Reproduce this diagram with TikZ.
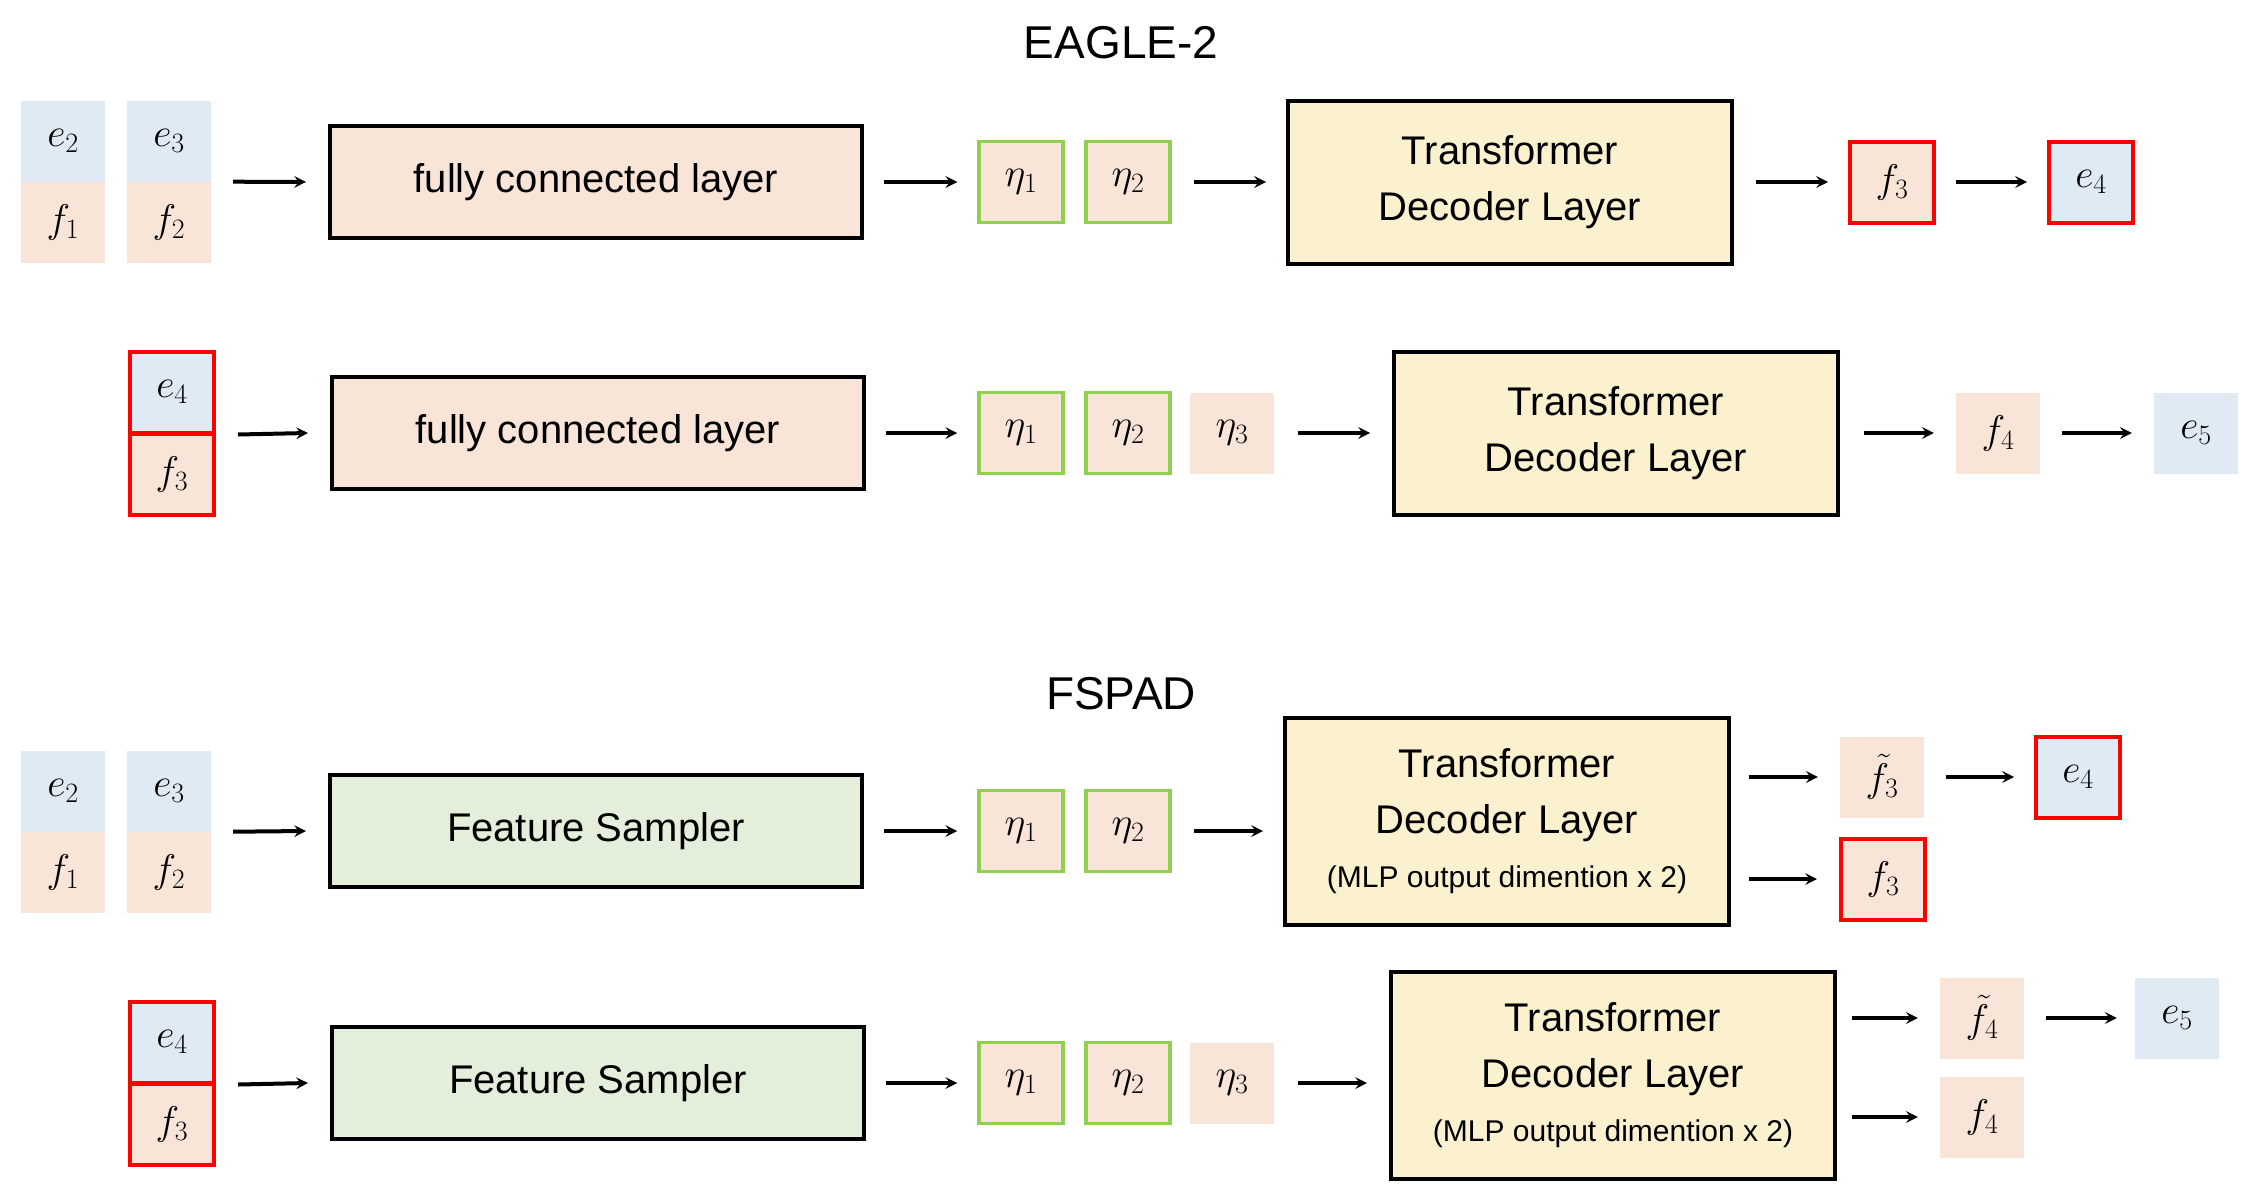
\RequirePackage{fix-cm}
\documentclass[tikz,border=0pt]{standalone}
\usepackage{fontspec}
\setmainfont{Liberation Sans}
\usetikzlibrary{arrows}
\definecolor{peach}{HTML}{F8E5D8}
\definecolor{paleblue}{HTML}{DFEAF5}
\definecolor{paleyellow}{HTML}{FCF1CF}
\definecolor{palegreen}{HTML}{E3EFDA}
\definecolor{leafgreen}{HTML}{8FD14F}
\tikzstyle{feat} = [rectangle, minimum width=84pt, minimum height=81pt, inner sep=0pt, text centered, fill=peach, font=\fontsize{40}{48}\selectfont]
\tikzstyle{emb} = [feat, fill=paleblue]
\tikzstyle{picked} = [draw=red, line width=4pt]
\tikzstyle{token} = [feat, minimum width=84pt, draw=leafgreen, line width=3.5pt]
\tikzstyle{layer} = [rectangle, minimum width=532pt, minimum height=112pt, text centered, draw=black, line width=4pt, fill=peach, font=\fontsize{40}{48}\selectfont]
\tikzstyle{sampler} = [layer, fill=palegreen]
\tikzstyle{decoder} = [rectangle, minimum width=444pt, minimum height=163pt, align=center, draw=black, line width=4pt, fill=paleyellow, font=\fontsize{40}{56}\selectfont]
\tikzstyle{title} = [font=\fontsize{46}{54}\selectfont]
\tikzstyle{arrow} = [line width=4pt,->,>=stealth]

\begin{document}
\begin{tikzpicture}[x=1pt, y=-1pt]
    \useasboundingbox (0,0) rectangle (2254,1197);
    %titles
    \node (eagle) [title] at (1121,43) {EAGLE-2};
    \node (fspad) [title] at (1121,694) {FSPAD};

    %EAGLE-2, first pass
    \node (ae2) [emb] at (63,141) {$e_2$};
    \node (af1) [feat] at (63,222) {$f_1$};
    \node (ae3) [emb] at (169,141) {$e_3$};
    \node (af2) [feat] at (169,222) {$f_2$};
    \node (afc) [layer] at (596,182) {fully connected layer};
    \node (aeta1) [token] at (1021,182) {$\eta_1$};
    \node (aeta2) [token] at (1128,182) {$\eta_2$};
    \node (adec) [decoder] at (1510,182) {Transformer\\Decoder Layer};
    \node (af3) [feat, picked] at (1892,182) {$f_3$};
    \node (ae4) [emb, picked] at (2091,182) {$e_4$};

    %EAGLE-2, second pass
    \node (be4) [emb, picked] at (172,392) {$e_4$};
    \node (bf3) [feat, picked] at (172,474) {$f_3$};
    \node (bfc) [layer] at (598,433) {fully connected layer};
    \node (beta1) [token] at (1021,433) {$\eta_1$};
    \node (beta2) [token] at (1128,433) {$\eta_2$};
    \node (beta3) [feat] at (1232,433) {$\eta_3$};
    \node (bdec) [decoder] at (1616,433) {Transformer\\Decoder Layer};
    \node (bf4) [feat] at (1998,433) {$f_4$};
    \node (be5) [emb] at (2196,433) {$e_5$};

    %FSPAD, first pass
    \node (ce2) [emb] at (63,791) {$e_2$};
    \node (cf1) [feat] at (63,872) {$f_1$};
    \node (ce3) [emb] at (169,791) {$e_3$};
    \node (cf2) [feat] at (169,872) {$f_2$};
    \node (cfs) [sampler] at (596,831) {Feature Sampler};
    \node (ceta1) [token] at (1021,831) {$\eta_1$};
    \node (ceta2) [token] at (1128,831) {$\eta_2$};
    \node (cdec) [decoder, minimum height=207pt] at (1507,821) {Transformer\\Decoder Layer\\[-2pt]{\fontsize{30}{36}\selectfont (MLP output dimention x 2)}};
    \node (cft3) [feat] at (1882,777) {$\tilde f_3$};
    \node (ce4) [emb, picked] at (2078,777) {$e_4$};
    \node (cf3) [feat, picked] at (1883,879) {$f_3$};

    %FSPAD, second pass
    \node (de4) [emb, picked] at (172,1042) {$e_4$};
    \node (df3) [feat, picked] at (172,1124) {$f_3$};
    \node (dfs) [sampler] at (598,1083) {Feature Sampler};
    \node (deta1) [token] at (1021,1083) {$\eta_1$};
    \node (deta2) [token] at (1128,1083) {$\eta_2$};
    \node (deta3) [feat] at (1232,1083) {$\eta_3$};
    \node (ddec) [decoder, minimum height=207pt] at (1613,1075) {Transformer\\Decoder Layer\\[-2pt]{\fontsize{30}{36}\selectfont (MLP output dimention x 2)}};
    \node (dft4) [feat] at (1982,1018) {$\tilde f_4$};
    \node (de5) [emb] at (2177,1018) {$e_5$};
    \node (df4) [feat] at (1982,1117) {$f_4$};

    %arrows
    \draw [arrow] ([xshift=22pt]ae3.south east) -- ([xshift=-22pt]afc.west);
    \draw [arrow] ([xshift=20pt]afc.east) -- ([xshift=-20pt]aeta1.west);
    \draw [arrow] ([xshift=22pt]aeta2.east) -- ([xshift=-20pt]adec.west);
    \draw [arrow] ([xshift=22pt]adec.east) -- ([xshift=-20pt]af3.west);
    \draw [arrow] ([xshift=20pt]af3.east) -- ([xshift=-20pt]ae4.west);

    \draw [arrow] ([xshift=22pt]be4.south east) -- ([xshift=-22pt]bfc.west);
    \draw [arrow] ([xshift=20pt]bfc.east) -- ([xshift=-20pt]beta1.west);
    \draw [arrow] ([xshift=24pt]beta3.east) -- ([xshift=-22pt]bdec.west);
    \draw [arrow] ([xshift=24pt]bdec.east) -- ([xshift=-22pt]bf4.west);
    \draw [arrow] ([xshift=22pt]bf4.east) -- ([xshift=-22pt]be5.west);

    \draw [arrow] ([xshift=22pt]ce3.south east) -- ([xshift=-22pt]cfs.west);
    \draw [arrow] ([xshift=20pt]cfs.east) -- ([xshift=-20pt]ceta1.west);
    \draw [arrow] ([xshift=22pt]ceta2.east) -- ([xshift=-20pt]cdec.west |- ceta2);
    \draw [arrow] ([xshift=18pt]cdec.east |- cft3) -- ([xshift=-22pt]cft3.west);
    \draw [arrow] ([xshift=22pt]cft3.east) -- ([xshift=-20pt]ce4.west);
    \draw [arrow] ([xshift=18pt]cdec.east |- cf3) -- ([xshift=-22pt]cf3.west);

    \draw [arrow] ([xshift=22pt]de4.south east) -- ([xshift=-22pt]dfs.west);
    \draw [arrow] ([xshift=20pt]dfs.east) -- ([xshift=-20pt]deta1.west);
    \draw [arrow] ([xshift=24pt]deta3.east) -- ([xshift=-22pt]ddec.west |- deta3);
    \draw [arrow] ([xshift=15pt]ddec.east |- dft4) -- ([xshift=-22pt]dft4.west);
    \draw [arrow] ([xshift=22pt]dft4.east) -- ([xshift=-18pt]de5.west);
    \draw [arrow] ([xshift=15pt]ddec.east |- df4) -- ([xshift=-22pt]df4.west);

\end{tikzpicture}
\end{document}
